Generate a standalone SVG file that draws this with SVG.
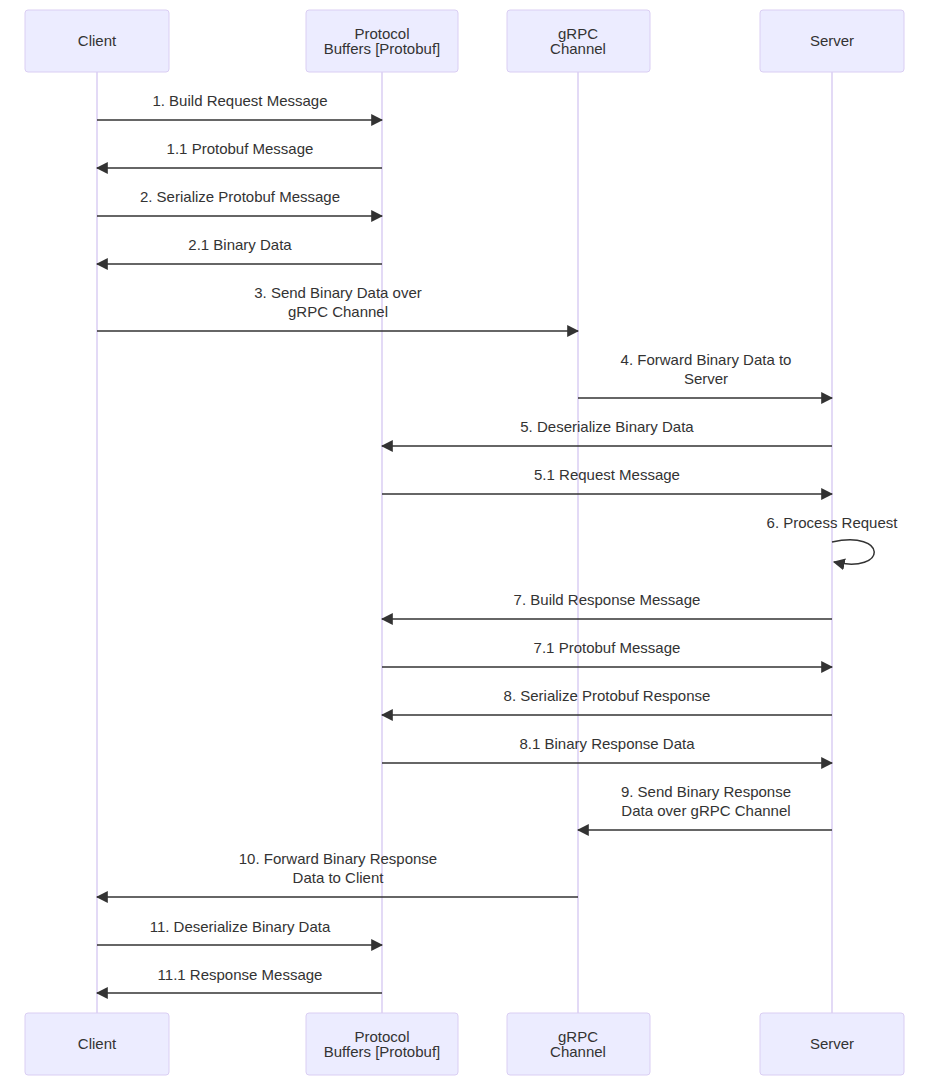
<svg xmlns="http://www.w3.org/2000/svg" width="928" height="1086" viewBox="0 0 928 1086">
<style>
.actor{fill:#ECECFF;stroke:#DACEF3;stroke-width:1}
.life{stroke:#DACEF3;stroke-width:1.5;fill:none}
.at{font-family:"Liberation Sans",Arial,sans-serif;font-size:15px;fill:#333;text-anchor:middle;dominant-baseline:central}
.mt{font-family:"Liberation Sans",Arial,sans-serif;font-size:15px;fill:#333;text-anchor:middle;dominant-baseline:central}
.msg{stroke:#333;stroke-width:1.5;fill:none;marker-end:url(#arrow)}
</style>
<defs>
<marker id="arrow" markerUnits="userSpaceOnUse" markerWidth="12" markerHeight="12" refX="9" refY="5" viewBox="0 0 10 10" orient="auto">
<path d="M0,0 L10,5 L0,10 z" fill="#333"/>
</marker>
</defs>
<rect width="928" height="1086" fill="#fff"/>
<g id="lifelines">
<line class="life" x1="97" y1="72" x2="97" y2="1013"/>
<line class="life" x1="382" y1="72" x2="382" y2="1013"/>
<line class="life" x1="578" y1="72" x2="578" y2="1013"/>
<line class="life" x1="832" y1="72" x2="832" y2="1013"/>
</g>
<g id="client-top"><rect class="actor" x="25" y="10" width="144" height="62" rx="3"/><text class="at" x="97" y="40">Client</text></g>
<g id="protobuf-top"><rect class="actor" x="306" y="10" width="152" height="62" rx="3"/><text class="at" x="382" y="33">Protocol</text><text class="at" x="382" y="48">Buffers [Protobuf]</text></g>
<g id="grpc-top"><rect class="actor" x="507" y="10" width="143" height="62" rx="3"/><text class="at" x="578" y="33">gRPC</text><text class="at" x="578" y="48">Channel</text></g>
<g id="server-top"><rect class="actor" x="760" y="10" width="144" height="62" rx="3"/><text class="at" x="832" y="40">Server</text></g>
<g id="client-bottom"><rect class="actor" x="25" y="1013" width="144" height="62" rx="3"/><text class="at" x="97" y="1043">Client</text></g>
<g id="protobuf-bottom"><rect class="actor" x="306" y="1013" width="152" height="62" rx="3"/><text class="at" x="382" y="1036">Protocol</text><text class="at" x="382" y="1051">Buffers [Protobuf]</text></g>
<g id="grpc-bottom"><rect class="actor" x="507" y="1013" width="143" height="62" rx="3"/><text class="at" x="578" y="1036">gRPC</text><text class="at" x="578" y="1051">Channel</text></g>
<g id="server-bottom"><rect class="actor" x="760" y="1013" width="144" height="62" rx="3"/><text class="at" x="832" y="1043">Server</text></g>
<g id="connectors">
<line class="msg" x1="97" y1="120" x2="382" y2="120"/>
<line class="msg" x1="382" y1="168" x2="97" y2="168"/>
<line class="msg" x1="97" y1="216" x2="382" y2="216"/>
<line class="msg" x1="382" y1="264" x2="97" y2="264"/>
<line class="msg" x1="97" y1="331" x2="578" y2="331"/>
<line class="msg" x1="578" y1="398" x2="832" y2="398"/>
<line class="msg" x1="832" y1="446" x2="382" y2="446"/>
<line class="msg" x1="382" y1="494" x2="832" y2="494"/>
<path class="msg" d="M832,542 C888,530 888,574 834,562"/>
<line class="msg" x1="832" y1="619" x2="382" y2="619"/>
<line class="msg" x1="382" y1="667" x2="832" y2="667"/>
<line class="msg" x1="832" y1="715" x2="382" y2="715"/>
<line class="msg" x1="382" y1="763" x2="832" y2="763"/>
<line class="msg" x1="832" y1="830" x2="578" y2="830"/>
<line class="msg" x1="578" y1="897" x2="97" y2="897"/>
<line class="msg" x1="97" y1="945" x2="382" y2="945"/>
<line class="msg" x1="382" y1="993" x2="97" y2="993"/>
</g>
<g id="labels">
<text class="mt" x="240" y="100">1. Build Request Message</text>
<text class="mt" x="240" y="148">1.1 Protobuf Message</text>
<text class="mt" x="240" y="196">2. Serialize Protobuf Message</text>
<text class="mt" x="240" y="244">2.1 Binary Data</text>
<text class="mt" x="338" y="292">3. Send Binary Data over</text>
<text class="mt" x="338" y="311">gRPC Channel</text>
<text class="mt" x="706" y="359">4. Forward Binary Data to</text>
<text class="mt" x="706" y="378">Server</text>
<text class="mt" x="607" y="426">5. Deserialize Binary Data</text>
<text class="mt" x="607" y="474">5.1 Request Message</text>
<text class="mt" x="832" y="522">6. Process Request</text>
<text class="mt" x="607" y="599">7. Build Response Message</text>
<text class="mt" x="607" y="647">7.1 Protobuf Message</text>
<text class="mt" x="607" y="695">8. Serialize Protobuf Response</text>
<text class="mt" x="607" y="743">8.1 Binary Response Data</text>
<text class="mt" x="706" y="791">9. Send Binary Response</text>
<text class="mt" x="706" y="810">Data over gRPC Channel</text>
<text class="mt" x="338" y="858">10. Forward Binary Response</text>
<text class="mt" x="338" y="877">Data to Client</text>
<text class="mt" x="240" y="926">11. Deserialize Binary Data</text>
<text class="mt" x="240" y="974">11.1 Response Message</text>
</g>
</svg>
